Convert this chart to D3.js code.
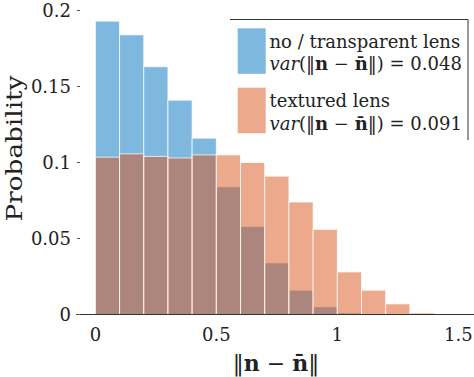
<!DOCTYPE html>
<html><head><meta charset="utf-8">
<script src="https://cdn.jsdelivr.net/npm/d3@7"></script>
<style>
html,body{margin:0;padding:0;background:#fff;}
svg{display:block;}
text{font-family:"DejaVu Serif",serif;fill:#222;}
</style></head>
<body><svg id="c" width="474" height="377"></svg>
<script>
const binEdges = [0,0.1,0.2,0.3,0.4,0.5,0.6,0.7,0.8,0.9,1.0,1.1,1.2,1.3,1.4];
const transparentLens = [0.193,0.184,0.163,0.141,0.116,0.084,0.058,0.034,0.016,0.005,0.001,0,0,0];
const texturedLens = [0.1035,0.1057,0.104,0.103,0.105,0.105,0.100,0.091,0.074,0.056,0.028,0.016,0.007,0.001];
const xTicks = [0,0.5,1,1.5];
const xTickLabels = ["0","0.5","1","1.5"];
const yTicks = [0,0.05,0.1,0.15,0.2];
const yTickLabels = ["0","0.05","0.1","0.15","0.2"];
const seriesNames = ["no / transparent lens","textured lens"];
const varValues = ["0.048","0.091"];

const svg = d3.select("#c");
const x = d3.scaleLinear().domain([-0.08,1.565]).range([76,474]);
const y = d3.scaleLinear().domain([0,0.2]).range([314.5,10.5]);

const colors = ["rgb(0,114,189)","rgb(217,83,25)"];
const series = [transparentLens, texturedLens];

series.forEach((vals,si)=>{
  svg.append("g").selectAll("rect").data(vals.map((v,i)=>({v,i}))).join("rect")
    .attr("x",d=>x(binEdges[d.i]))
    .attr("width",d=>x(binEdges[d.i+1])-x(binEdges[d.i]))
    .attr("y",d=>y(d.v))
    .attr("height",d=>y(0)-y(d.v))
    .attr("fill",colors[si]).attr("fill-opacity",0.5)
    .attr("stroke","#fff").attr("stroke-opacity",0.75).attr("stroke-width",1);
});

// x axis line
svg.append("line").attr("x1",76).attr("x2",474).attr("y1",y(0)).attr("y2",y(0))
  .attr("stroke","#333").attr("stroke-width",1);
svg.append("g").selectAll("text").data(xTicks).join("text")
  .attr("x",d=>x(d)).attr("y",341).attr("text-anchor","middle")
  .style("font-size","18px").text((d,i)=>xTickLabels[i]);

// y ticks
svg.append("g").selectAll("line").data(yTicks).join("line")
  .attr("x1",77).attr("x2",80).attr("y1",d=>y(d)).attr("y2",d=>y(d))
  .attr("stroke","#555").attr("stroke-width",1);
svg.append("g").selectAll("text").data(yTicks).join("text")
  .attr("x",71).attr("y",d=>y(d)+6.5).attr("text-anchor","end")
  .style("font-size","18px").text((d,i)=>yTickLabels[i]);

// y label
svg.append("text").attr("transform","translate(22,148.5) rotate(-90)")
  .attr("text-anchor","middle").style("font-size","22px")
  .attr("textLength",146).attr("lengthAdjust","spacingAndGlyphs").text("Probability");

// x label
const xl = svg.append("text").attr("x",276).attr("y",371).attr("text-anchor","middle").style("font-size","22px");
xl.append("tspan").text("\u2016");
xl.append("tspan").attr("font-weight","bold").text("n");
xl.append("tspan").text(" \u2212 ");
xl.append("tspan").attr("font-weight","bold").text("n\u0304");
xl.append("tspan").text("\u2016");

// legend
svg.append("path").attr("d","M230,19.5H468V140").attr("fill","none").attr("stroke","#333").attr("stroke-width",1);
const patchY = [28.3, 87.7];
seriesNames.forEach((name,i)=>{
  svg.append("rect").attr("x",237.7).attr("y",patchY[i]).attr("width",28).attr("height",45.5)
    .attr("fill",colors[i]).attr("fill-opacity",0.5);
  svg.append("text").attr("x",269.5).attr("y",patchY[i]+19.5).style("font-size","18px").text(name);
  const t = svg.append("text").attr("x",269.5).attr("y",patchY[i]+42).style("font-size","18px");
  t.append("tspan").attr("font-style","italic").text("var");
  t.append("tspan").text("(\u2016");
  t.append("tspan").attr("font-weight","bold").text("n");
  t.append("tspan").text(" \u2212 ");
  t.append("tspan").attr("font-weight","bold").text("n\u0304");
  t.append("tspan").text("\u2016) = " + varValues[i]);
});
</script></body></html>
